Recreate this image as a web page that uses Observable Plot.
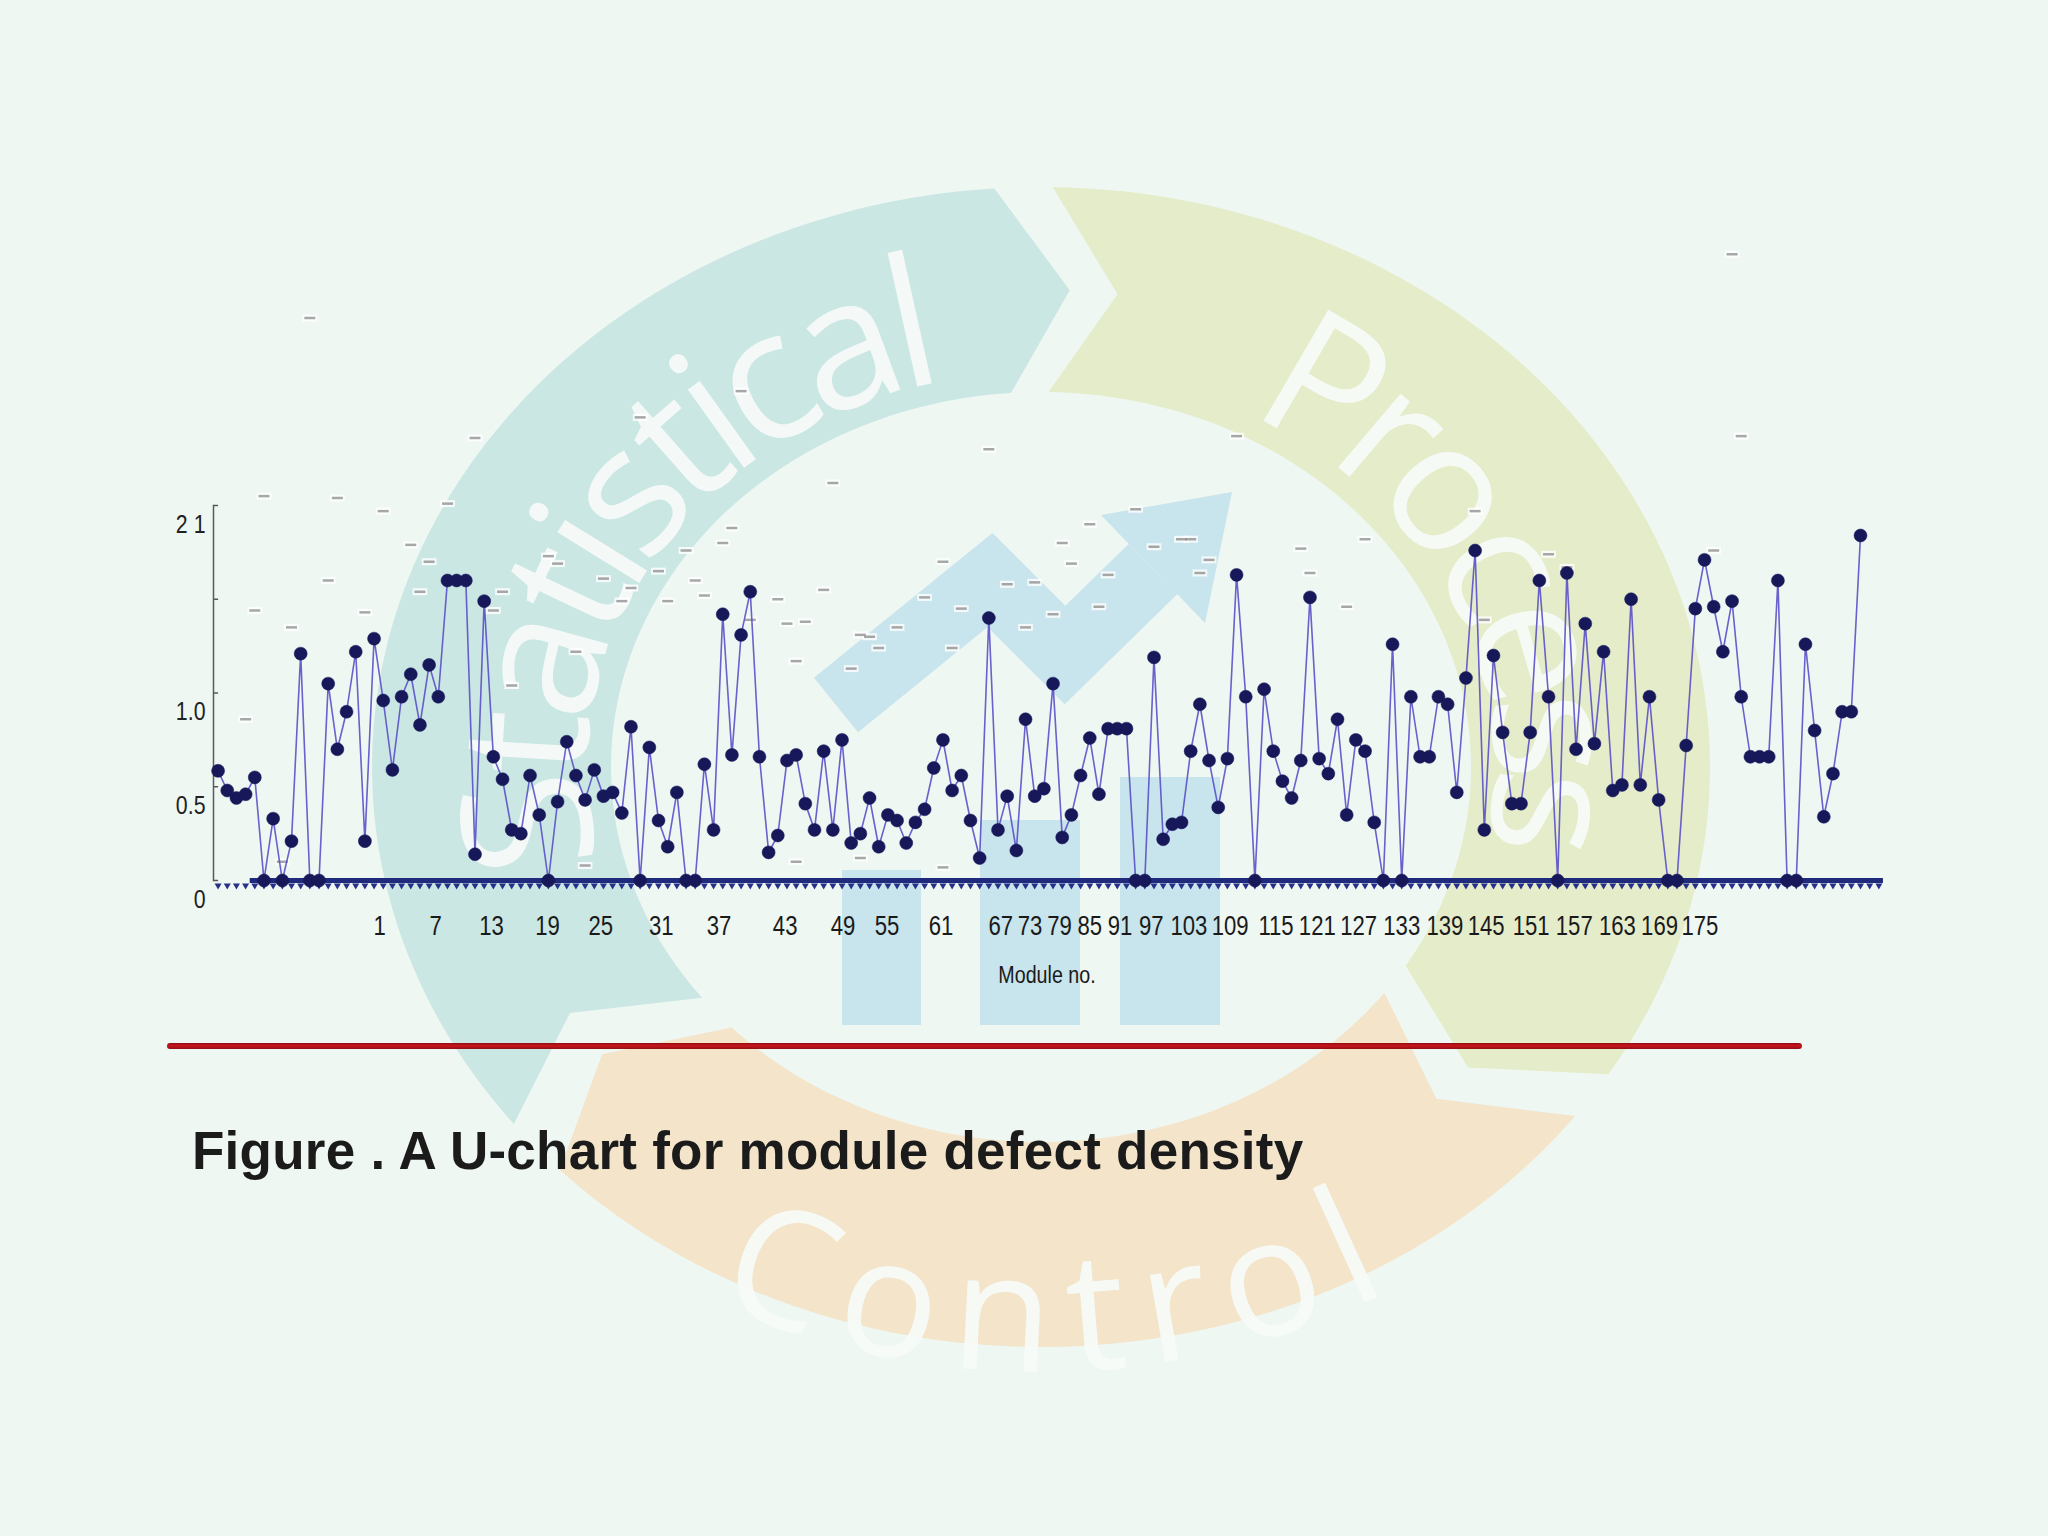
<!DOCTYPE html>
<html>
<head>
<meta charset="utf-8">
<script src="https://cdn.jsdelivr.net/npm/d3@7"></script>
<script src="https://cdn.jsdelivr.net/npm/@observablehq/plot@0.6"></script>
<style>
  html, body { margin: 0; padding: 0; background: #eff7f3; }
  #page { position: relative; width: 2048px; height: 1536px; overflow: hidden; background: #eff7f3; }
  #bg { position: absolute; left: 0; top: 0; }
  #chart { position: absolute; left: 0; top: 0; }
  #redrule { position: absolute; left: 167px; top: 1043px; width: 1635px; height: 6px;
    background: linear-gradient(to bottom, #8f0d12 0%, #c8161e 45%, #b31219 70%, #8f0d12 100%);
    border-radius: 3px; }
  #title { position: absolute; left: 192px; top: 1124px; line-height: 53px;
    font-family: "Liberation Sans", Arial, sans-serif; font-weight: bold; font-size: 53px;
    letter-spacing: 0.25px; color: #1b1b1b; white-space: nowrap; }
</style>
</head>
<body>
<div id="page">
  <svg id="bg" width="2048" height="1536"></svg>
  <div id="chart"></div>
  <div id="redrule"></div>
  <div id="title">Figure . A U-chart for module defect density</div>
</div>
<script>
// ---------------- DATA ----------------
const modules = d3.range(1, 181);
const uValues = [
  0.585, 0.48, 0.44, 0.46, 0.55, 0, 0.33, 0, 0.21, 1.21,
  0, 0, 1.05, 0.70, 0.90, 1.22, 0.21, 1.29, 0.96, 0.59,
  0.98, 1.10, 0.83, 1.15, 0.98, 1.60, 1.60, 1.60, 0.14, 1.49,
  0.66, 0.54, 0.27, 0.25, 0.56, 0.35, 0, 0.42, 0.74, 0.56,
  0.43, 0.59, 0.45, 0.47, 0.36, 0.82, 0, 0.71, 0.32, 0.18,
  0.47, 0, 0, 0.62, 0.27, 1.42, 0.67, 1.31, 1.54, 0.66,
  0.15, 0.24, 0.64, 0.67, 0.41, 0.27, 0.69, 0.27, 0.75, 0.20,
  0.25, 0.44, 0.18, 0.35, 0.32, 0.20, 0.31, 0.38, 0.60, 0.75,
  0.48, 0.56, 0.32, 0.12, 1.40, 0.27, 0.45, 0.16, 0.86, 0.45,
  0.49, 1.05, 0.23, 0.35, 0.56, 0.76, 0.46, 0.81, 0.81, 0.81,
  0, 0, 1.19, 0.22, 0.30, 0.31, 0.69, 0.94, 0.64, 0.39,
  0.65, 1.63, 0.98, 0, 1.02, 0.69, 0.53, 0.44, 0.64, 1.51,
  0.65, 0.57, 0.86, 0.35, 0.75, 0.69, 0.31, 0, 1.26, 0,
  0.98, 0.66, 0.66, 0.98, 0.94, 0.47, 1.08, 1.76, 0.27, 1.20,
  0.79, 0.41, 0.41, 0.79, 1.60, 0.98, 0, 1.64, 0.70, 1.37,
  0.73, 1.22, 0.48, 0.51, 1.50, 0.51, 0.98, 0.43, 0, 0,
  0.72, 1.45, 1.71, 1.46, 1.22, 1.49, 0.98, 0.66, 0.66, 0.66,
  1.60, 0, 0, 1.26, 0.80, 0.34, 0.57, 0.90, 0.90, 1.84
];
// faint control-limit dashes (module, value)
const uclModules = [4, 5, 6, 8, 9, 11, 13, 14, 17, 19, 22, 23, 24, 26, 29, 31, 32, 33, 37, 38,
  40, 41, 43, 45, 46, 47, 49, 50, 52, 53, 54, 56, 57, 58, 59, 62, 63, 64, 64, 65,
  67, 68, 70, 71, 71, 72, 73, 75, 78, 80, 80, 81, 82, 85, 87, 89, 90, 92, 93, 94,
  96, 97, 98, 101, 103, 106, 107, 108, 109, 112, 119, 120, 124, 126, 138, 139, 146, 148, 164, 166, 167];
const uclValues = [0.86, 1.44, 2.05, 0.10, 1.35, 3.00, 1.60, 2.04, 1.43, 1.97, 1.79, 1.54, 1.70, 2.01, 2.36, 1.44, 1.54, 1.04, 1.73, 1.69,
  1.22, 0.08, 1.61, 1.49, 1.56, 2.47, 1.65, 1.49, 1.76, 1.60, 1.52, 1.80, 1.88, 2.61, 1.39, 1.50, 1.37, 1.17, 0.10, 1.38,
  1.55, 2.12, 1.13, 1.31, 0.12, 1.30, 1.24, 1.35, 1.51, 1.70, 0.07, 1.24, 1.45, 2.30, 1.58, 1.35, 1.59, 1.42, 1.80, 1.69,
  1.90, 1.46, 1.63, 1.98, 1.78, 1.82, 1.82, 1.64, 1.71, 2.37, 1.77, 1.64, 1.46, 1.82, 1.97, 1.39, 1.74, 1.67, 1.76, 3.34, 2.37];
const yTickValues = [0, 0.5, 1.0, 1.5, 2.0];
const yTickLabels = ["0", "0.5", "1.0", "", "2 1"];
const xTickPositions = [18.6, 24.7, 30.8, 36.9, 42.7, 49.3, 55.6, 62.8, 69.1, 73.9,
  79.8, 86.3, 89.5, 92.7, 96.0, 99.3, 102.7, 106.8, 111.3, 116.3,
  120.8, 125.3, 130.0, 134.7, 139.2, 144.1, 148.8, 153.5, 158.1, 162.5];
const xTickLabels = ["1", "7", "13", "19", "25", "31", "37", "43", "49", "55",
  "61", "67", "73", "79", "85", "91", "97", "103", "109", "115",
  "121", "127", "133", "139", "145", "151", "157", "163", "169", "175"];
const baselineExtent = [4.5, 182.5];
const baselineMarkers = d3.range(1, 183);
const xLabel = "Module no.";

// ---------------- BACKGROUND LOGO ----------------
(function drawLogo() {
  const svg = d3.select("#bg");
  const cx = 1041, cy = 767, rxO = 669, ryO = 580, rxI = 430, ryI = 375;
  const P = (f, deg) => {
    const t = deg * Math.PI / 180;
    return [cx + (rxI + f * (rxO - rxI)) * Math.sin(t), cy - (ryI + f * (ryO - ryI)) * Math.cos(t)];
  };
  const arcPts = (f, a, b) => {
    const n = Math.max(2, Math.ceil(Math.abs(b - a) / 1.5));
    return d3.range(n + 1).map(k => P(f, a + (b - a) * k / n));
  };
  const segment = (a, b, tip, notch) => {
    const pts = [];
    pts.push(...arcPts(1, a, b));
    pts.push(P(0.5, b + tip));
    pts.push(...arcPts(0, b, a));
    if (notch) pts.push(P(0.5, a + notch));
    return "M" + pts.map(p => p.join(",")).join("L") + "Z";
  };
  svg.append("path").attr("d", segment(232, 356, 7, 7)).attr("fill", "#cbe7e3");
  svg.append("path").attr("d", segment(1, 122, 7, 7)).attr("fill", "#e5ecca");
  svg.append("path").attr("d", segment(127, 226, 7, 7)).attr("fill", "#f3e4ca");

  // center icon: bars + zigzag arrow
  const icon = svg.append("g").attr("fill", "#c8e4ec").attr("stroke", "none");
  icon.append("rect").attr("x", 842).attr("y", 870).attr("width", 79).attr("height", 155);
  icon.append("rect").attr("x", 980).attr("y", 820).attr("width", 100).attr("height", 205);
  icon.append("rect").attr("x", 1120).attr("y", 777).attr("width", 100).attr("height", 248);
  icon.append("path").attr("d", "M836,705 L990,580 L1065,655 L1153,569")
    .attr("fill", "none").attr("stroke", "#c8e4ec").attr("stroke-width", 70).attr("stroke-linejoin", "miter");
  icon.append("path").attr("d", "M1232,492 L1205,623 L1101,515 Z");

  // text on arcs
  const defs = svg.append("defs");
  const addTextPath = (id, f, a, b, text, size) => {
    const pts = arcPts(f, a, b);
    let len = 0;
    for (let k = 1; k < pts.length; k++) len += Math.hypot(pts[k][0] - pts[k-1][0], pts[k][1] - pts[k-1][1]);
    defs.append("path").attr("id", id).attr("d", "M" + pts.map(p => p.join(",")).join("L"));
    svg.append("text")
      .attr("font-family", "'Open Sans', 'Noto Sans', sans-serif")
      .attr("font-size", size).attr("fill", "#f7fbf9").attr("fill-opacity", 0.92)
      .append("textPath").attr("href", "#" + id)
      .attr("textLength", len).attr("lengthAdjust", "spacing")
      .text(text);
  };
  addTextPath("tp-stat", 0.10, -104, -12, "Statistical", 180);
  addTextPath("tp-proc", 0.10, 27, 102, "Process", 180);
  addTextPath("tp-ctrl", 1.12, 208, 150, "Control", 165);
})();

// ---------------- CHART ----------------
const data = modules.map((m, i) => ({module: m, u: uValues[i]}));
const ucl = uclModules.map((m, i) => ({module: m, u: uclValues[i]}));
const labelFont = "'Liberation Sans', Arial, sans-serif";

const chart = Plot.plot({
  width: 2048,
  height: 1000,
  marginLeft: 213,
  marginRight: 188,
  marginTop: 505,
  marginBottom: 120,
  x: {domain: [0.5, 180], axis: null},
  y: {domain: [0, 2], axis: null},
  style: {background: "transparent", overflow: "visible", color: "#222", fontFamily: labelFont},
  marks: [
    Plot.frame({anchor: "left", stroke: "#5a5a5a", strokeWidth: 1.5}),
    Plot.link(yTickValues, {x1: 0.5, x2: 0.5 + 0.5, y1: d => d, y2: d => d, stroke: "#5a5a5a", strokeWidth: 1.5}),
    // faint control-limit dashes
    Plot.link(ucl, {x1: d => d.module - 0.8, x2: d => d.module + 0.8, y1: "u", y2: "u", stroke: "#ffffff", strokeWidth: 7, strokeOpacity: 0.8}),
    Plot.link(ucl, {x1: d => d.module - 0.6, x2: d => d.module + 0.6, y1: "u", y2: "u", stroke: "#8a8a8a", strokeWidth: 2.5, strokeOpacity: 0.75}),
    // baseline at zero
    Plot.ruleY([0], {x1: baselineExtent[0], x2: baselineExtent[1], stroke: "#1f2a7c", strokeWidth: 5}),
    Plot.dot(baselineMarkers, {x: d => d, y: 0, symbol: "triangle", rotate: 180, r: 2.6, dy: 5, fill: "#26308a"}),
    // u series
    Plot.line(data, {x: "module", y: "u", stroke: "#5a50c8", strokeWidth: 1.6, strokeOpacity: 0.9}),
    Plot.dot(data, {x: "module", y: "u", r: 6.5, fill: "#17185a", stroke: "#17185a", strokeWidth: 0.5}),
    // y tick labels
    Plot.text(yTickValues, {x: 0.5, y: d => d, text: (d, i) => yTickLabels[i], textAnchor: "end", dx: -8, dy: 19, fontSize: 26, fill: "#222"}),
    // x tick labels
    Plot.text(xTickPositions, {x: d => d, y: 0, dy: 46, text: (d, i) => xTickLabels[i], fontSize: 27, fill: "#1a1a1a"}),
    // x axis title
    Plot.text([xLabel], {frameAnchor: "bottom", dx: 10, dy: 102, text: d => d, fontSize: 24, fill: "#1a1a1a"})
  ]
});
document.getElementById("chart").appendChild(chart);

// condense the label glyphs horizontally (the reference uses a narrow face)
d3.select(chart).selectAll("text").each(function () {
  const tr = this.getAttribute("transform") || "";
  this.setAttribute("transform", `${tr} scale(0.82,1)`);
});
</script>
</body>
</html>
